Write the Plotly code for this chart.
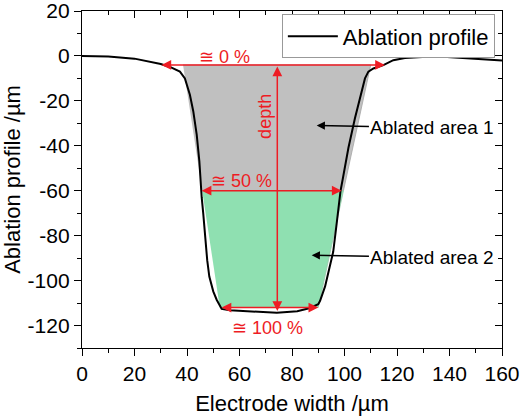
import plotly.graph_objects as go

# ---- data ----
profile_x = [0, 10, 20, 30, 33.5, 37.3, 39.2, 41.1, 42.4, 43.7, 44.7, 45.2, 45.6, 46.2, 46.9,
             47.7, 48.5, 50.0, 51.3, 53.2, 56.4, 65, 74.2, 82, 86.9, 90.0, 90.7, 92.6, 94.5,
             95.7, 97.0, 98.5, 99.3, 101.5, 104.0, 106.5, 107.8, 109.1, 111.0, 114.8, 118.6,
             123, 128.8, 133, 137.6, 142, 147.8, 154, 160]
profile_y = [0, -0.3, -1.2, -3.6, -4.9, -7.0, -10.0, -17.3, -24.7, -35.0, -46.8, -57.0, -63, -70.3,
             -80.6, -90.9, -98.2, -104.8, -108.5, -112.6, -113.2, -113.8, -114.3, -113.6, -112.2,
             -110.5, -109, -102.6, -93.0, -87.2, -74.7, -60, -55, -40.9, -27.6, -15.9, -10.0,
             -7.0, -5.6, -4.1, -1.9, -0.9, -0.4, -0.2, -0.4, -0.8, -1.2, -1.6, -2.0]

area1_x = [38.5, 110, 99.6, 45.8]
area1_y = [-4, -4, -60, -60]
area2_x = [45.8, 99.6, 90, 52.5]
area2_y = [-60, -60, -112, -112]

level_y = [-4, -60, -112]
level_x0 = [29.7, 45.0, 52.6]
level_x1 = [115.4, 98.9, 90.0]
level_labels = ["≅ 0 %", "≅ 50 %", "≅ 100 %"]
level_label_x = [54.1, 60.8, 70.5]
level_label_y = [-0.3, -55.6, -121]

depth_x = 74.4
depth_y = [-4, -113.5]
depth_label_pos = [69.7, -26.7]

area_labels = ["Ablated area 1", "Ablated area 2"]
area_label_x = [133.5, 133.5]
area_label_y = [-31.8, -89.7]
area_arrow_x = [89.4, 87.5]
area_arrow_y = [-31.0, -88.7]

x_ticks = [0, 20, 40, 60, 80, 100, 120, 140, 160]
y_ticks = [20, 0, -20, -40, -60, -80, -100, -120]
y_ticktext = [str(v) for v in y_ticks]

RED = "#ee1c24"
FONT = "Liberation Sans, Arial, sans-serif"

fig = go.Figure()
fig.add_trace(go.Scatter(x=area1_x, y=area1_y, fill="toself", mode="lines",
                         fillcolor="rgb(192,192,192)", line=dict(color="rgb(165,165,165)", width=0.8),
                         showlegend=False, hoverinfo="skip"))
fig.add_trace(go.Scatter(x=area2_x, y=area2_y, fill="toself", mode="lines",
                         fillcolor="rgb(143,224,177)", line=dict(color="rgb(150,200,170)", width=0.8),
                         showlegend=False, hoverinfo="skip"))
fig.add_trace(go.Scatter(x=profile_x, y=profile_y, mode="lines", name="Ablation profile",
                         line=dict(color="black", width=2)))
# invisible trace so that the mirrored (top/right) axes are drawn
fig.add_trace(go.Scatter(x=[None], y=[None], xaxis="x2", yaxis="y2", mode="lines",
                         showlegend=False, hoverinfo="skip"))

ann = []
for yv, x0, x1 in zip(level_y, level_x0, level_x1):
    ann.append(dict(x=x1, y=yv, ax=x0, ay=yv, xref="x", yref="y", axref="x", ayref="y",
                    text="", showarrow=True, arrowhead=2, arrowside="end+start",
                    arrowsize=1.3, arrowwidth=1.5, arrowcolor=RED, standoff=0, startstandoff=0))
for t, xv, yv in zip(level_labels, level_label_x, level_label_y):
    ann.append(dict(x=xv, y=yv, xref="x", yref="y", text=t, showarrow=False,
                    font=dict(size=18, color=RED, family=FONT)))
ann.append(dict(x=depth_x, y=depth_y[1], ax=depth_x, ay=depth_y[0], xref="x", yref="y",
                axref="x", ayref="y", text="", showarrow=True, arrowhead=2, arrowside="end+start",
                arrowsize=1.3, arrowwidth=1.5, arrowcolor=RED, standoff=0, startstandoff=0))
ann.append(dict(x=depth_label_pos[0], y=depth_label_pos[1], xref="x", yref="y", text="depth",
                textangle=-90, showarrow=False, font=dict(size=18, color=RED, family=FONT)))
for t, lx, ly, hx, hy in zip(area_labels, area_label_x, area_label_y, area_arrow_x, area_arrow_y):
    ann.append(dict(x=hx, y=hy, ax=lx, ay=ly, xref="x", yref="y", axref="x", ayref="y",
                    text=t, showarrow=True, arrowhead=2, arrowsize=1.1, arrowwidth=1.5,
                    arrowcolor="black", standoff=0, font=dict(size=19, color="black", family=FONT)))

axis_common = dict(showline=True, linecolor="black", linewidth=1.3, showgrid=False, zeroline=False,
                   ticks="outside", ticklen=7, tickwidth=1.3, tickcolor="black",
                   ticklabeloverflow="allow", automargin=False,
                   tickfont=dict(size=21, color="black", family=FONT))

mirror_common = dict(showticklabels=False, showline=True, linecolor="black", linewidth=1.3,
                     ticks="inside", ticklen=7, tickwidth=1.3, tickcolor="black", showgrid=False,
                     zeroline=False, automargin=False,
                     minor=dict(dtick=10, ticks="inside", ticklen=4, tickwidth=1.3, tickcolor="black"))

fig.update_layout(
    width=520, height=416, margin=dict(l=82, r=18, t=11, b=68, autoexpand=False),
    paper_bgcolor="white", plot_bgcolor="white",
    font=dict(family=FONT, color="black"),
    xaxis=dict(range=[0, 160], tickvals=x_ticks,
               minor=dict(dtick=10, ticks="outside", ticklen=4, tickwidth=1.3, tickcolor="black"),
               title=dict(text="Electrode width /µm", font=dict(size=22, family=FONT), standoff=16),
               **axis_common),
    yaxis=dict(range=[-130, 20], tickvals=y_ticks, ticktext=y_ticktext,
               minor=dict(dtick=10, ticks="outside", ticklen=4, tickwidth=1.3, tickcolor="black"),
               title=dict(text="Ablation profile /µm", font=dict(size=22, family=FONT), standoff=10),
               **axis_common),
    xaxis2=dict(overlaying="x", side="top", range=[0, 160], tickvals=x_ticks, anchor="y2",
                **mirror_common),
    yaxis2=dict(overlaying="y", side="right", range=[-130, 20], tickvals=y_ticks, anchor="x2",
                **mirror_common),
    legend=dict(x=0.983, y=0.99, xanchor="right", yanchor="top", bgcolor="white",
                bordercolor="#999999", borderwidth=1, font=dict(size=22, family=FONT),
                itemwidth=50),
    annotations=ann,
)

fig.write_html("out.html")
